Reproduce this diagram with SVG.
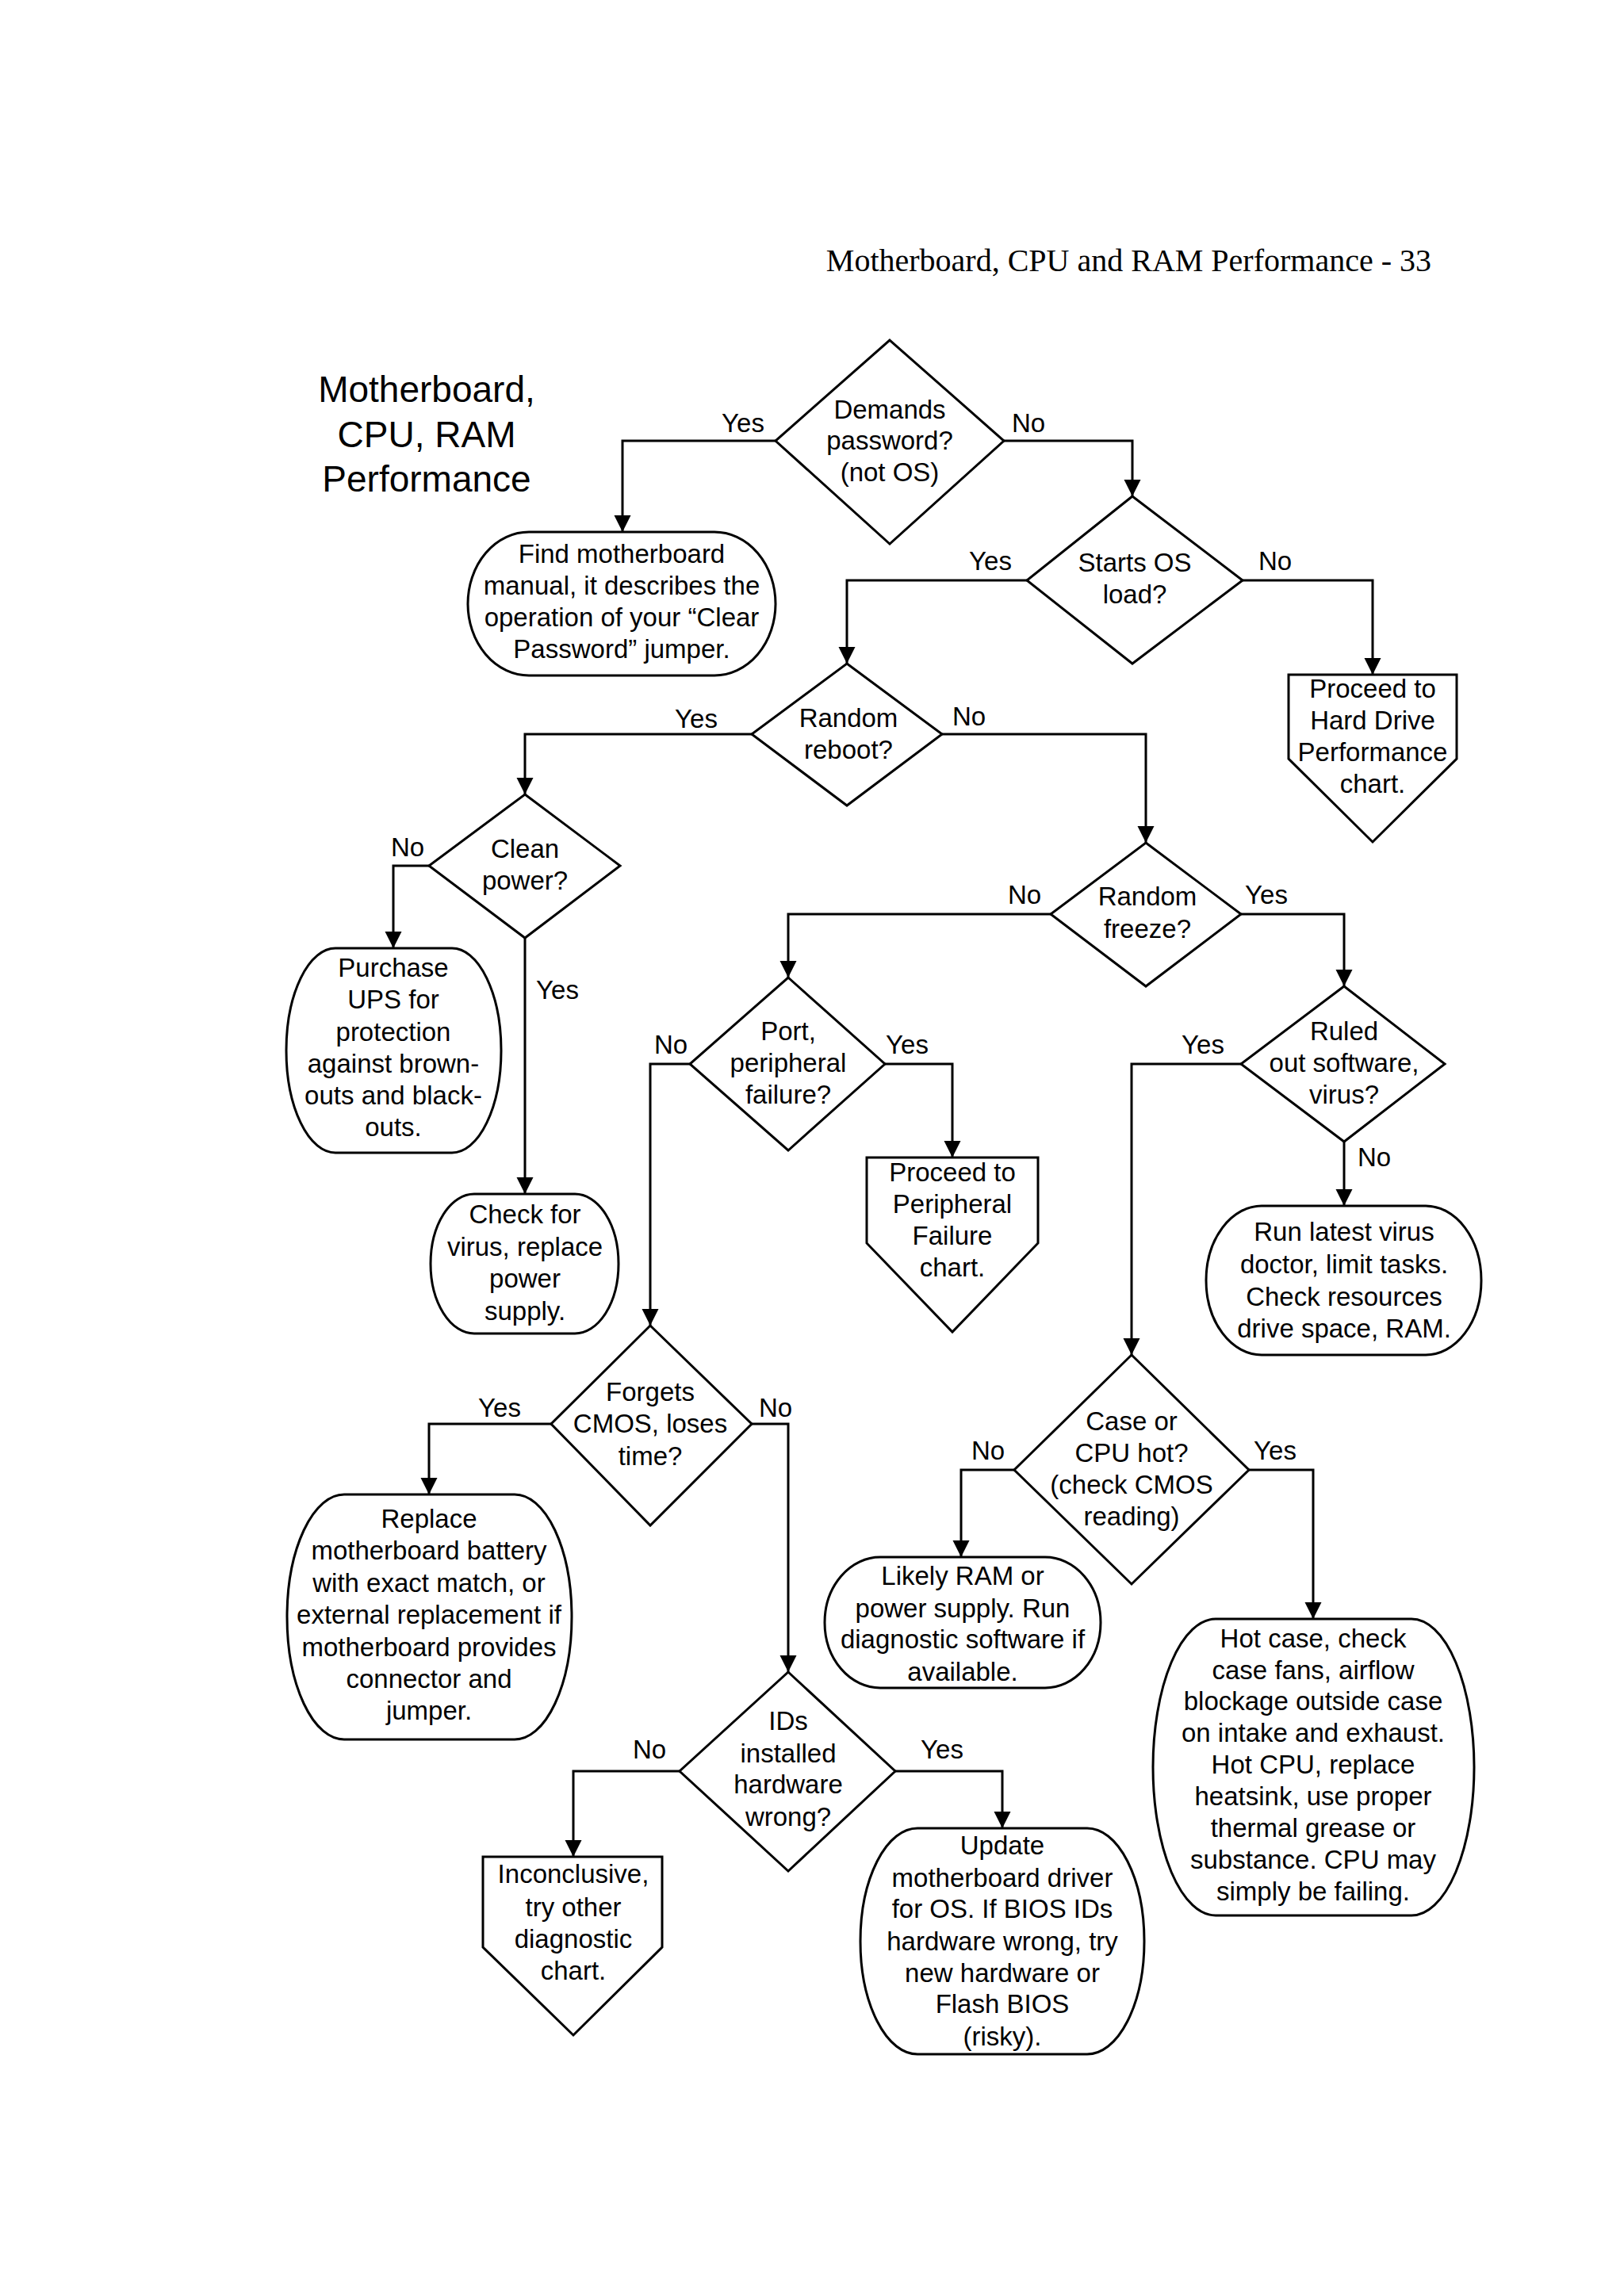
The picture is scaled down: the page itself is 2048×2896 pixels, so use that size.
<svg xmlns="http://www.w3.org/2000/svg" width="2048" height="2896" viewBox="0 0 2048 2896">
<defs>
<marker id="arrow" markerUnits="userSpaceOnUse" markerWidth="22" markerHeight="22" refX="21" refY="10.5" orient="auto">
<path d="M0,0 L21,10.5 L0,21 z" fill="#000"/>
</marker>
<style>
.s{fill:#fff;stroke:#000;stroke-width:3}
.c{fill:none;stroke:#000;stroke-width:3;marker-end:url(#arrow)}
.t{font-family:"Liberation Sans",Arial,sans-serif;font-size:33px;text-anchor:middle;fill:#000}
.title{font-family:"Liberation Sans",Arial,sans-serif;font-size:46px;text-anchor:middle;fill:#000}
.hdr{font-family:"Liberation Serif","Times New Roman",serif;font-size:40px;text-anchor:end;fill:#000}
</style>
</defs>
<rect width="2048" height="2896" fill="#fff"/>
<text class="hdr" x="1805" y="342">Motherboard, CPU and RAM Performance - 33</text>
<g id="title">
<text class="title" x="538" y="507">Motherboard,</text>
<text class="title" x="538" y="564">CPU, RAM</text>
<text class="title" x="538" y="620">Performance</text>
</g>
<g id="connectors">
<path class="c" d="M978,556 H785 V671"/>
<path class="c" d="M1266,556 H1428 V626"/>
<path class="c" d="M1295,732 H1068 V837"/>
<path class="c" d="M1567,732 H1731 V851"/>
<path class="c" d="M948,926 H662 V1002"/>
<path class="c" d="M1188,926 H1445 V1063"/>
<path class="c" d="M541,1092 H496 V1196"/>
<path class="c" d="M662,1183 V1506"/>
<path class="c" d="M1325,1153 H994 V1233"/>
<path class="c" d="M1565,1153 H1695 V1244"/>
<path class="c" d="M870,1342 H820 V1672"/>
<path class="c" d="M1116,1342 H1201 V1460"/>
<path class="c" d="M1565,1342 H1427 V1709"/>
<path class="c" d="M1695,1440 V1521"/>
<path class="c" d="M695,1796 H541 V1885"/>
<path class="c" d="M948,1796 H994 V2109"/>
<path class="c" d="M1279,1854 H1212 V1964"/>
<path class="c" d="M1575,1854 H1656 V2042"/>
<path class="c" d="M857,2234 H723 V2342"/>
<path class="c" d="M1129,2234 H1264 V2306"/>
<g class="t">
<text x="937" y="545">Yes</text>
<text x="1297" y="545">No</text>
<text x="1249" y="719">Yes</text>
<text x="1608" y="719">No</text>
<text x="878" y="918">Yes</text>
<text x="1222" y="915">No</text>
<text x="514" y="1080">No</text>
<text x="703" y="1260">Yes</text>
<text x="1292" y="1140">No</text>
<text x="1597" y="1140">Yes</text>
<text x="846" y="1329">No</text>
<text x="1144" y="1329">Yes</text>
<text x="1517" y="1329">Yes</text>
<text x="1733" y="1471">No</text>
<text x="630" y="1787">Yes</text>
<text x="978" y="1787">No</text>
<text x="1246" y="1841">No</text>
<text x="1608" y="1841">Yes</text>
<text x="819" y="2218">No</text>
<text x="1188" y="2218">Yes</text>
</g>
</g>
<g id="d-demands">
<polygon class="s" points="1122,429 1266,556 1122,686 978,556"/>
<text class="t" x="1122" y="528">Demands</text>
<text class="t" x="1122" y="567">password?</text>
<text class="t" x="1122" y="607">(not OS)</text>
</g>
<g id="t-manual">
<rect class="s" x="590" y="671" width="388" height="181" rx="77" ry="90.5"/>
<text class="t" x="784" y="710">Find motherboard</text>
<text class="t" x="784" y="750">manual, it describes the</text>
<text class="t" x="784" y="790">operation of your “Clear</text>
<text class="t" x="784" y="830">Password” jumper.</text>
</g>
<g id="d-starts">
<polygon class="s" points="1428,626 1567,732 1428,837 1295,732"/>
<text class="t" x="1431" y="721">Starts OS</text>
<text class="t" x="1431" y="761">load?</text>
</g>
<g id="o-harddrive">
<polygon class="s" points="1625,851 1837,851 1837,957 1731,1062 1625,957"/>
<text class="t" x="1731" y="880">Proceed to</text>
<text class="t" x="1731" y="920">Hard Drive</text>
<text class="t" x="1731" y="960">Performance</text>
<text class="t" x="1731" y="1000">chart.</text>
</g>
<g id="d-reboot">
<polygon class="s" points="1068,837 1188,926 1068,1016 948,926"/>
<text class="t" x="1070" y="917">Random</text>
<text class="t" x="1070" y="957">reboot?</text>
</g>
<g id="d-clean">
<polygon class="s" points="662,1002 782,1092 662,1183 541,1092"/>
<text class="t" x="662" y="1082">Clean</text>
<text class="t" x="662" y="1122">power?</text>
</g>
<g id="t-ups">
<rect class="s" x="361" y="1196" width="271" height="258" rx="62" ry="129"/>
<text class="t" x="496" y="1232">Purchase</text>
<text class="t" x="496" y="1272">UPS for</text>
<text class="t" x="496" y="1313">protection</text>
<text class="t" x="496" y="1353">against brown-</text>
<text class="t" x="496" y="1393">outs and black-</text>
<text class="t" x="496" y="1433">outs.</text>
</g>
<g id="t-virus">
<rect class="s" x="543" y="1506" width="237" height="176" rx="55" ry="88"/>
<text class="t" x="662" y="1543">Check for</text>
<text class="t" x="662" y="1584">virus, replace</text>
<text class="t" x="662" y="1624">power</text>
<text class="t" x="662" y="1665">supply.</text>
</g>
<g id="d-freeze">
<polygon class="s" points="1445,1063 1565,1153 1445,1244 1325,1153"/>
<text class="t" x="1447" y="1142">Random</text>
<text class="t" x="1447" y="1183">freeze?</text>
</g>
<g id="d-port">
<polygon class="s" points="994,1233 1116,1342 994,1451 870,1342"/>
<text class="t" x="994" y="1312">Port,</text>
<text class="t" x="994" y="1352">peripheral</text>
<text class="t" x="994" y="1392">failure?</text>
</g>
<g id="o-peripheral">
<polygon class="s" points="1093,1460 1309,1460 1309,1568 1201,1680 1093,1568"/>
<text class="t" x="1201" y="1490">Proceed to</text>
<text class="t" x="1201" y="1530">Peripheral</text>
<text class="t" x="1201" y="1570">Failure</text>
<text class="t" x="1201" y="1610">chart.</text>
</g>
<g id="d-ruled">
<polygon class="s" points="1695,1244 1822,1342 1695,1440 1565,1342"/>
<text class="t" x="1695" y="1312">Ruled</text>
<text class="t" x="1695" y="1352">out software,</text>
<text class="t" x="1695" y="1392">virus?</text>
</g>
<g id="t-runvirus">
<rect class="s" x="1521" y="1521" width="347" height="188" rx="70" ry="94"/>
<text class="t" x="1695" y="1565">Run latest virus</text>
<text class="t" x="1695" y="1606">doctor, limit tasks.</text>
<text class="t" x="1695" y="1647">Check resources</text>
<text class="t" x="1695" y="1687">drive space, RAM.</text>
</g>
<g id="d-cmos">
<polygon class="s" points="820,1672 948,1796 820,1924 695,1796"/>
<text class="t" x="820" y="1767">Forgets</text>
<text class="t" x="820" y="1807">CMOS, loses</text>
<text class="t" x="820" y="1848">time?</text>
</g>
<g id="t-battery">
<rect class="s" x="362" y="1885" width="359" height="309" rx="72" ry="154.5"/>
<text class="t" x="541" y="1927">Replace</text>
<text class="t" x="541" y="1967">motherboard battery</text>
<text class="t" x="541" y="2008">with exact match, or</text>
<text class="t" x="541" y="2048">external replacement if</text>
<text class="t" x="541" y="2089">motherboard provides</text>
<text class="t" x="541" y="2129">connector and</text>
<text class="t" x="541" y="2169">jumper.</text>
</g>
<g id="d-hot">
<polygon class="s" points="1427,1709 1575,1854 1427,1998 1279,1854"/>
<text class="t" x="1427" y="1804">Case or</text>
<text class="t" x="1427" y="1844">CPU hot?</text>
<text class="t" x="1427" y="1884">(check CMOS</text>
<text class="t" x="1427" y="1924">reading)</text>
</g>
<g id="t-ram">
<rect class="s" x="1040" y="1964" width="348" height="165" rx="70" ry="82.5"/>
<text class="t" x="1214" y="1999">Likely RAM or</text>
<text class="t" x="1214" y="2040">power supply. Run</text>
<text class="t" x="1214" y="2079">diagnostic software if</text>
<text class="t" x="1214" y="2120">available.</text>
</g>
<g id="t-hotcase">
<rect class="s" x="1454" y="2042" width="405" height="374" rx="79" ry="187"/>
<text class="t" x="1656" y="2078">Hot case, check</text>
<text class="t" x="1656" y="2118">case fans, airflow</text>
<text class="t" x="1656" y="2157">blockage outside case</text>
<text class="t" x="1656" y="2197">on intake and exhaust.</text>
<text class="t" x="1656" y="2237">Hot CPU, replace</text>
<text class="t" x="1656" y="2277">heatsink, use proper</text>
<text class="t" x="1656" y="2317">thermal grease or</text>
<text class="t" x="1656" y="2357">substance. CPU may</text>
<text class="t" x="1656" y="2397">simply be failing.</text>
</g>
<g id="d-ids">
<polygon class="s" points="994,2109 1129,2234 994,2360 857,2234"/>
<text class="t" x="994" y="2182">IDs</text>
<text class="t" x="994" y="2223">installed</text>
<text class="t" x="994" y="2262">hardware</text>
<text class="t" x="994" y="2303">wrong?</text>
</g>
<g id="o-inconclusive">
<polygon class="s" points="609,2342 835,2342 835,2456 723,2567 609,2456"/>
<text class="t" x="723" y="2375">Inconclusive,</text>
<text class="t" x="723" y="2417">try other</text>
<text class="t" x="723" y="2457">diagnostic</text>
<text class="t" x="723" y="2497">chart.</text>
</g>
<g id="t-update">
<rect class="s" x="1085" y="2306" width="358" height="285" rx="72" ry="142.5"/>
<text class="t" x="1264" y="2339">Update</text>
<text class="t" x="1264" y="2380">motherboard driver</text>
<text class="t" x="1264" y="2419">for OS. If BIOS IDs</text>
<text class="t" x="1264" y="2460">hardware wrong, try</text>
<text class="t" x="1264" y="2500">new hardware or</text>
<text class="t" x="1264" y="2539">Flash BIOS</text>
<text class="t" x="1264" y="2580">(risky).</text>
</g>
</svg>
